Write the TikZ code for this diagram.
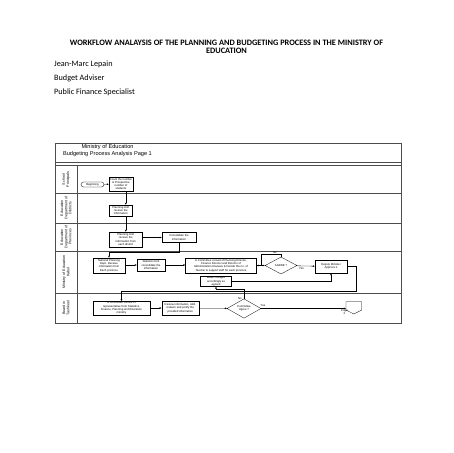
\documentclass[tikz,border=0pt]{standalone}
\usepackage{fontspec}
\setmainfont{Carlito}
\newfontfamily\arialfont{Liberation Sans}
\usetikzlibrary{positioning,calc,arrows.meta,shapes.geometric}

\newcommand{\boxfont}{\arialfont\fontsize{2.8}{3.3}\selectfont}
\newcommand{\lanefont}{\arialfont\fontsize{3.6}{4.2}\selectfont}

\tikzset{
  proc/.style={draw,line width=0.3pt,font=\boxfont,align=center,inner sep=0.4pt},
  decide/.style={diamond,draw,line width=0.3pt,font=\boxfont,align=center,inner sep=0pt},
  term/.style={proc,rounded corners=2.5pt},
  flowline/.style={->,line width=0.3pt},
  lane/.style={draw=gray!60!black,line width=0.5pt},
  lanelbl/.style={font=\lanefont,align=center,rotate=90},
  tag/.style={font=\boxfont,inner sep=0pt},
  byline/.style={anchor=west,inner sep=0pt,font=\fontsize{8.2}{9}\selectfont}
}

\begin{document}
\begin{tikzpicture}[x=1pt,y=-1pt,>={Latex[length=2pt,width=1.7pt]}]
\useasboundingbox[fill=white] (0,0) rectangle (453,453);

\node[font=\bfseries\fontsize{8.3}{8.2}\selectfont,align=center,inner sep=0pt] (title) at (226.5,47)
  {WORKFLOW ANALAYSIS OF THE PLANNING AND BUDGETING PROCESS IN THE MINISTRY OF\\EDUCATION};
\node[byline] (author) at (54,64) {Jean-Marc Lepain};
\node[byline] (job) at (54,78) {Budget Adviser};
\node[byline] (role) at (54,92) {Public Finance Specialist};

% swimlane frame
\draw[lane] (55,143) rectangle (401,323);
\draw[lane] (55,162) -- (401,162);
\draw[lane] (55,165.5) -- (401,165.5);
\foreach \y in {193,223,251,293}
  \draw[lane] (55,\y) -- (401,\y);
\draw[lane] (77,165.5) -- (77,323);

\node[font=\arialfont\fontsize{5.6}{6.6}\selectfont,align=center,inner sep=0pt] (hdr) at (107.5,150.7)
  {Ministry of Education\\Budgeting Process Analysis Page 1};

\node[lanelbl] (lsp) at (66,179.5) {School\\Principals};
\node[lanelbl] (led) at (66,208) {Education\\Department of\\Districts};
\node[lanelbl] (lep) at (66,237) {Education\\Department of\\Provinces};
\node[lanelbl] (lmk) at (66,272) {Ministry of Education\\Kabul};
\node[lanelbl] (lbt) at (66,308) {Board in\\Tashkeel};

% steps
\node[term,minimum width=23,minimum height=5] (begin) at (92.5,184.5) {Beginning};
\node[proc,minimum width=24,minimum height=14] (count) at (121,184) {Count the number\\\& Prospective\\number of\\students};
\node[proc,minimum width=23,minimum height=11] (pud) at (120.8,210.5) {Planning Unit\\receive the\\information};
\node[proc,minimum width=33,minimum height=15] (pup) at (125.8,239.5) {Planning Unit\\receive the\\information from\\each district};
\node[proc,minimum width=34,minimum height=10] (cons) at (179,237.5) {Consolidate the\\information};
\node[proc,minimum width=32,minimum height=15] (npd) at (109,265.5) {National Planning\\Dept. Receive\\information from\\Each province};
\node[proc,minimum width=28,minimum height=12] (stat) at (151,265) {Statistics Unit\\consolidate the\\information};
\node[proc,minimum width=71,minimum height=15] (cmt) at (221,265.5) {A Committee consist of Planning Director,\\Finance Director and Director of\\Administration Reviews \& Decide the no. of\\Teacher \& support staff for each province};
\node[decide,minimum width=32,minimum height=17] (agree) at (281,265.5) {AGREE ?};
\node[proc,minimum width=32,minimum height=13] (dep) at (331,266.5) {Deputy Minister\\Approve it};
\node[proc,minimum width=31,minimum height=10] (chg) at (216,281.5) {Make changes\\accordingly as\\agreed};
\node[proc,minimum width=57,minimum height=13] (acmt) at (121.5,308) {A committee consist of\\representative from Statistics,\\Finance, Planning and Education\\ministry};
\node[proc,minimum width=37,minimum height=14] (rev) at (180.3,308) {Review information, Add,\\redeem and justify the\\provided information};
\node[decide,minimum width=34,minimum height=17] (cagree) at (244,308.5) {Committee\\Agree ?};

% off-page connector
\draw[line width=0.3pt] (346,301.7) -- (361.7,301.7) -- (361.7,310) -- (353.8,314) -- (346,310) -- cycle;
\coordinate (pg2) at (346,308.5);
\node[tag,align=center] (pg2lbl) at (344.5,312) {Page\\2};

% connectors
\draw[flowline] (begin) -- (count);
\draw[flowline] (count.south -| pup.north) -- (pud.north -| pup.north);
\draw[flowline] (pud.south -| pup.north) -- (pup.north);
\draw[flowline] (pup.east |- cons) -- (cons.west);
\draw[flowline] (cons.south) -- ++(0,9.5) -| (npd.north);
\draw[flowline] (npd.east |- stat) -- (stat.west);
\draw[flowline] (stat.east) -- (stat.east -| cmt.west);
\draw[flowline] (cmt) -- (agree);
\draw[flowline] (agree) -- (dep);
\node[tag] (yes1) at (301.5,268.5) {Yes};
\coordinate (nl) at (261,254);
\draw[flowline] (agree.north) |- (nl) |- (cmt.east);
\node[tag] (no1) at (275,252.5) {No};
\draw[flowline] (chg.east) -| (dep.south);
\coordinate (jn) at (356,291);
\draw[flowline] (dep.east) -| (jn) -| (acmt.north);
\draw[flowline] (acmt) -- (rev);
\draw[flowline] (rev) -- (cagree);
\draw[flowline] (cagree.east) -- (pg2);
\node[tag] (yes2) at (263,306) {Yes};
\coordinate (nj) at (244,289);
\draw[flowline] (cagree.north) |- (nj) -| (chg.south);
\node[tag] (no2) at (240,298.5) {No};
\end{tikzpicture}
\end{document}
